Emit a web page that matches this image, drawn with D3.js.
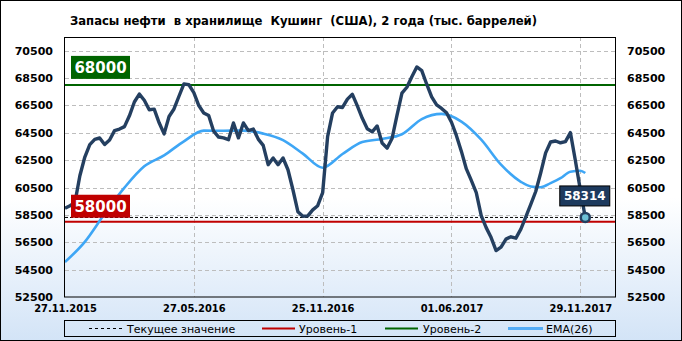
<!DOCTYPE html>
<html>
<head>
<meta charset="utf-8">
<script src="https://cdn.jsdelivr.net/npm/d3@7"></script>
<style>
  body { margin: 0; background: #fff; }
  svg { display: block; font-family: "DejaVu Sans", sans-serif; }
</style>
</head>
<body>
<svg id="chartSVG"></svg>
<script>
// weekly stock values, 27.11.2015 .. 29.11.2017 (thousand barrels)
let stock = [
  58980, 59170, 59390, 61360, 62730, 63640, 64020, 64120, 63640, 63970,
  64660, 64770, 64950, 65740, 66750, 67330, 66880, 66180, 66230, 65230,
  64420, 65690, 66240, 67170, 68070, 68010, 67440, 66490, 65950, 65760,
  64620, 64190, 64130, 64000, 65220, 64130, 65220, 64660, 64770, 64040,
  63580, 62170, 62660, 62170, 62660, 61800, 60340, 58730, 58400, 58430,
  58870, 59170, 60120, 64220, 65950, 66400, 66350, 66960, 67310, 66470,
  65560, 64790, 64570, 65000, 63750, 63380, 64080, 65780, 67400, 67830,
  68600, 69310, 69040, 68050, 67130, 66540, 66280, 65960, 65270, 64290,
  63140, 61860, 61020, 60130, 58450, 57570, 56840, 55890, 56140, 56730,
  56900, 56800, 57460, 58350, 59260, 60210, 61560, 63030, 63830, 63900,
  63770, 63850, 64510, 62470, 60340, 58314
];

// EMA(26) at selected weeks
let emaWeeks  = [0, 4, 8, 12, 16, 20, 24, 28, 32, 36, 40, 44, 48, 52, 56, 60, 64, 68, 72, 76, 80, 84, 88, 92, 94, 96, 98, 100, 102, 104, 105];
let emaValues = [55060, 56530, 58580, 60490, 62050, 62850, 63880, 64660, 64650, 64660, 64440, 63970, 62980, 61950,
                 62950, 63820, 64050, 64390, 65500, 65880, 65320, 64000, 62170, 60920, 60580, 60520, 60820, 61180,
                 61660, 61730, 61560];

let dateLabels = ['27.11.2015', '27.05.2016', '25.11.2016', '01.06.2017', '29.11.2017'];
let dateWeeks  = [0, 26, 52, 78, 104];

let yTicks = d3.range(52500, 70501, 2000);

let level1 = 58000;
let level2 = 68000;
let current = stock[stock.length - 1];

let legendItems = ['Текущее значение', 'Уровень-1', 'Уровень-2', 'EMA(26)'];

let widthSVG = 682;
let heightSVG = 341;
let margins = { top: 37, bottom: 44, left: 65, right: 67 };
let width = widthSVG - margins.left - margins.right;
let height = heightSVG - margins.top - margins.bottom;

let navy = '#243f60';
let emaColor = '#3ea6f5';
let red = '#c00000';
let green = '#006400';

let SVG = d3.select('svg#chartSVG')
            .attr('width', widthSVG)
            .attr('height', heightSVG);

let defs = SVG.append('defs');
let grad = defs.append('linearGradient')
               .attr('id', 'bgGrad')
               .attr('x1', 0).attr('y1', 0).attr('x2', 0).attr('y2', 1);
grad.append('stop').attr('offset', '0%').attr('stop-color', '#ffffff');
grad.append('stop').attr('offset', '58%').attr('stop-color', '#ffffff');
grad.append('stop').attr('offset', '100%').attr('stop-color', '#d3e4f7');

SVG.append('rect')
   .attr('x', 0.5).attr('y', 0.5)
   .attr('width', widthSVG - 1).attr('height', heightSVG - 1)
   .style('fill', 'url(#bgGrad)')
   .style('stroke', '#000');

SVG.append('text')
   .attr('x', 70)
   .attr('y', 25)
   .attr('textLength', 467)
   .attr('lengthAdjust', 'spacingAndGlyphs')
   .style('white-space', 'pre')
   .style('font-family', '"DejaVu Sans Condensed", "DejaVu Sans", sans-serif')
   .style('font-weight', 'bold')
   .style('font-size', '13px')
   .style('fill', '#000')
   .text('Запасы нефти  в хранилище  Кушинг  (США), 2 года (тыс. баррелей)');

let SVGG = SVG.append('g')
              .attr('id', 'chartGroup')
              .attr('transform', `translate(${margins.left}, ${margins.top})`);

let x = d3.scaleLinear().domain([0, 111]).range([0, width]);
let y = d3.scaleLinear().domain([52500, 71500]).range([height, 0]);

// grid
SVGG.append('g')
    .selectAll('line')
    .data(yTicks.slice(1))
    .enter()
    .append('line')
    .attr('x1', 0).attr('x2', width)
    .attr('y1', d => Math.round(y(d)) + 0.5)
    .attr('y2', d => Math.round(y(d)) + 0.5)
    .style('stroke', '#bdbdbd')
    .style('stroke-dasharray', '4,3');

SVGG.append('g')
    .selectAll('line')
    .data(dateWeeks.slice(1))
    .enter()
    .append('line')
    .attr('x1', d => Math.round(x(d)) + 0.5)
    .attr('x2', d => Math.round(x(d)) + 0.5)
    .attr('y1', 0).attr('y2', height)
    .style('stroke', '#bdbdbd')
    .style('stroke-dasharray', '4,3');

// axes
let fmt = d3.format('d');
let axisL = SVGG.append('g')
    .call(d3.axisLeft(y).tickValues(yTicks).tickFormat(fmt).tickSize(0).tickPadding(12));
let axisR = SVGG.append('g')
    .attr('transform', `translate(${width}, 0)`)
    .call(d3.axisRight(y).tickValues(yTicks).tickFormat(fmt).tickSize(0).tickPadding(12));
let axisB = SVGG.append('g')
    .attr('transform', `translate(0, ${height})`)
    .call(d3.axisBottom(x).tickValues(dateWeeks).tickFormat((d, i) => dateLabels[i]).tickSize(0).tickPadding(7));

SVGG.selectAll('.domain').remove();
[axisL, axisR].forEach(a => a.selectAll('text')
    .style('font-family', '"DejaVu Sans", sans-serif')
    .style('font-size', '11px')
    .style('font-weight', 'bold')
    .style('fill', '#000'));
axisB.selectAll('text')
    .style('font-family', '"DejaVu Sans Condensed", "DejaVu Sans", sans-serif')
    .style('font-size', '11px')
    .style('font-weight', 'bold')
    .style('fill', '#000');

// level lines
SVGG.append('line')
    .attr('x1', 0).attr('x2', width)
    .attr('y1', y(level2)).attr('y2', y(level2))
    .style('stroke', green).style('stroke-width', 2);
SVGG.append('line')
    .attr('x1', 0).attr('x2', width)
    .attr('y1', y(level1)).attr('y2', y(level1))
    .style('stroke', red).style('stroke-width', 2);
SVGG.append('line')
    .attr('x1', 0).attr('x2', width)
    .attr('y1', y(current)).attr('y2', y(current))
    .style('stroke', '#000').style('stroke-width', 1)
    .style('stroke-dasharray', '3,2');

// EMA
let emaLine = d3.line()
    .x((d, i) => x(emaWeeks[i]))
    .y(d => y(d))
    .curve(d3.curveMonotoneX);
SVGG.append('path')
    .datum(emaValues)
    .attr('d', emaLine)
    .style('fill', 'none')
    .style('stroke', emaColor)
    .style('stroke-width', 2.6);

// stock
let stockLine = d3.line()
    .x((d, i) => x(i))
    .y(d => y(d));
SVGG.append('path')
    .datum(stock)
    .attr('d', stockLine)
    .style('fill', 'none')
    .style('stroke', navy)
    .style('stroke-width', 3.4)
    .style('stroke-linejoin', 'round');

// frame
SVGG.append('rect')
    .attr('x', -0.5).attr('y', 0.5)
    .attr('width', width + 1).attr('height', height - 0.5)
    .style('fill', 'none')
    .style('stroke', '#000');

// level boxes
function levelBox(val, color, top) {
  let g = SVGG.append('g').attr('transform', `translate(6, ${top})`);
  g.append('rect')
   .attr('width', 59).attr('height', 23)
   .style('fill', color);
  g.append('text')
   .attr('x', 29.5).attr('y', 17.5)
   .style('text-anchor', 'middle')
   .style('font-family', '"DejaVu Sans", sans-serif')
   .style('font-size', '15px')
   .style('font-weight', 'bold')
   .style('fill', '#fff')
   .text(val);
}
levelBox(level2, green, y(level2) - 29);
levelBox(level1, red, y(level1) - 27);

// last value marker + label
let lastI = stock.length - 1;
SVGG.append('circle')
    .attr('cx', x(lastI)).attr('cy', y(current))
    .attr('r', 4.5)
    .style('fill', '#6cc0d6')
    .style('stroke', navy)
    .style('stroke-width', 2.5);

let lab = SVGG.append('g')
    .attr('transform', `translate(${x(lastI) - 26}, ${y(current) - 32})`);
lab.append('rect')
   .attr('x', 0.5).attr('y', 0.5)
   .attr('width', 50).attr('height', 20)
   .style('fill', '#1d3a5e')
   .style('stroke', '#000');
lab.append('text')
   .attr('x', 25.5).attr('y', 15)
   .style('text-anchor', 'middle')
   .style('font-size', '12px')
   .style('font-weight', 'bold')
   .style('fill', '#fff')
   .text(current);

// legend
let leg = SVG.append('g').attr('transform', 'translate(64, 320)');
leg.append('rect')
   .attr('x', 0.5).attr('y', 0.5)
   .attr('width', 551).attr('height', 16)
   .style('fill', 'none')
   .style('stroke', '#000');

let legSwatch = [
  { x0: 25, x1: 58, color: '#000', w: 1, dash: '3,3', tx: 63 },
  { x0: 198, x1: 231, color: red, w: 2, dash: null, tx: 235 },
  { x0: 321, x1: 354, color: green, w: 2, dash: null, tx: 359 },
  { x0: 444, x1: 479, color: '#55adf6', w: 3, dash: null, tx: 482 }
];
let legG = leg.selectAll('g.item')
    .data(legendItems)
    .enter()
    .append('g')
    .classed('item', true);
legG.append('line')
    .attr('x1', (d, i) => legSwatch[i].x0)
    .attr('x2', (d, i) => legSwatch[i].x1)
    .attr('y1', 8.5).attr('y2', 8.5)
    .style('stroke', (d, i) => legSwatch[i].color)
    .style('stroke-width', (d, i) => legSwatch[i].w)
    .style('stroke-dasharray', (d, i) => legSwatch[i].dash);
legG.append('text')
    .attr('x', (d, i) => legSwatch[i].tx)
    .attr('y', 12.5)
    .style('font-size', '11px')
    .style('fill', '#000')
    .text(d => d);
</script>
</body>
</html>
